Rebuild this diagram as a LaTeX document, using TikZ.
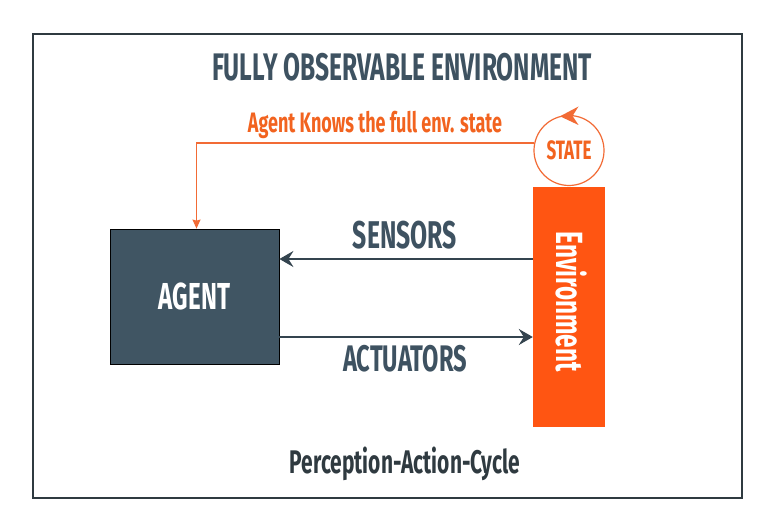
\documentclass[tikz,border=0pt]{standalone}
\usepackage{fontspec}
\setmainfont{Fira Sans}
\newfontfamily\din[FakeStretch=0.64]{Fira Sans}
\usepackage{graphicx}
\usetikzlibrary{arrows.meta}
\definecolor{framecol}{HTML}{2F3A40}
\definecolor{agentcol}{HTML}{405563}
\definecolor{titlecol}{HTML}{3E5261}
\definecolor{darkcol}{HTML}{34444F}
\definecolor{envcol}{HTML}{FF5512}
\definecolor{orangeln}{HTML}{F26B35}
\definecolor{orangetx}{HTML}{F2631F}
\newcommand{\fw}[2]{\resizebox{#1}{!}{\din\bfseries #2}}
\tikzset{
  lbl/.style={inner sep=0pt, outer sep=0pt},
  darkarrow/.style={draw=darkcol, line width=2pt, -{Stealth[length=14pt,width=16pt,inset=5pt]}},
  orangearrow/.style={draw=orangeln, line width=1.2pt, -{Stealth[length=9pt,width=8pt,inset=1pt]}},
}
\begin{document}
\begin{tikzpicture}[x=1pt,y=-1pt]
\useasboundingbox (0,0) rectangle (767,529);
\fill[white] (0,0) rectangle (767,529);
\draw[framecol, line width=2.2pt] (33,34) rectangle (742,498);
\node[lbl, text=titlecol] (title) at (402,66.7) {\fw{380pt}{FULLY OBSERVABLE ENVIRONMENT}};
\node[draw=black, line width=0.8pt, fill=agentcol, minimum width=169pt, minimum height=135pt, inner sep=0pt, text=white] (agent) at (194.5,296.5) {\fw{71pt}{AGENT}};
\node[fill=envcol, minimum width=72pt, minimum height=240pt, inner sep=0pt] (env) at (569,307) {};
\node[lbl, text=white, rotate=-90] (envtxt) at (571.5,301.7) {\fw{140pt}{Environment}};
\node[circle, draw=orangeln, line width=1.2pt, minimum size=70pt, inner sep=0pt, text=orangetx] (state) at (569,150.5) {\fw{45pt}{STATE}};
\fill[orangeln] (560,116.3) -- (578.5,106.5) -- (572.5,116) -- (578.5,125) -- cycle;
\node[lbl, text=orangetx, anchor=base] (know) at (375,133) {\fw{254pt}{Agent Knows the full env. state}};
\draw[orangearrow] (state.168) -| ([xshift=2pt]agent.north);
\coordinate (sy) at (400,259);
\coordinate (ay) at (400,337);
\draw[darkarrow] (env.west |- sy) -- (agent.east |- sy);
\draw[darkarrow] (agent.east |- ay) -- (env.west |- ay);
\node[lbl, text=titlecol, anchor=base] (sens) at (405,248.3) {\fw{104pt}{SENSORS}};
\node[lbl, text=titlecol, anchor=base] (act) at (405,371.7) {\fw{124pt}{ACTUATORS}};
\node[lbl, text=framecol, anchor=base] (pac) at (405,473.3) {\fw{230pt}{Perception-Action-Cycle}};
\end{tikzpicture}
\end{document}
